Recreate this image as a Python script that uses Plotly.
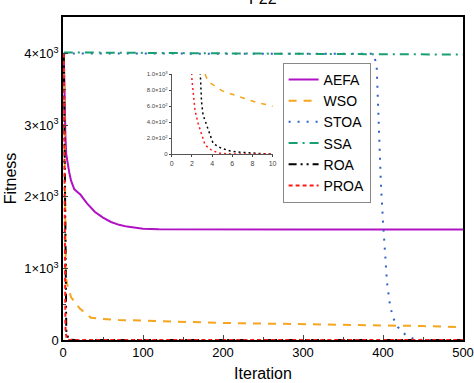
import plotly.graph_objects as go

# ---- data ----
aefa_iter = [1, 2, 3, 4, 6, 8, 10, 14, 18, 22, 26, 30, 40, 50, 60, 70, 80, 90, 100, 120, 150, 200, 300, 400, 500]
aefa_fit = [4000, 3300, 2850, 2600, 2450, 2330, 2230, 2110, 2070, 2030, 1970, 1910, 1790, 1710, 1650, 1610,
            1585, 1565, 1555, 1548, 1546, 1545, 1545, 1545, 1545]

wso_iter = [1, 2, 2.7, 3.3, 3.6, 5, 7, 8.3, 10, 16, 21, 35, 50, 70, 100, 150, 200, 250, 300, 350, 400, 450, 500]
wso_fit = [4000, 2900, 1900, 1000, 904, 790, 705, 650, 600, 510, 440, 310, 292, 280, 268, 252, 238, 230, 222,
           215, 207, 195, 178]

stoa_iter = [1, 100, 200, 300, 388, 392, 395, 397.5, 400, 402, 405, 409, 413, 419, 425, 432, 440, 450, 500]
stoa_fit = [4005, 4005, 4005, 4005, 4000, 3850, 2900, 2150, 1660, 1300, 800, 470, 300, 177, 100, 46, 10, 0, 0]

ssa_iter = [1, 100, 200, 300, 400, 500]
ssa_fit = [4020, 4010, 4005, 4000, 3995, 3990]

roa_iter = [1, 2, 2.85, 2.95, 3.1, 3.5, 3.8, 4.1, 4.9, 5.8, 6.8, 8, 9.7, 15, 500]
roa_fit = [4000, 2600, 940, 650, 490, 345, 240, 135, 75, 41, 25, 12, 2, 0, 0]

proa_iter = [1, 1.5, 2, 2.15, 2.3, 2.6, 3, 3.3, 4, 4.8, 6, 8, 500]
proa_fit = [4000, 2400, 925, 740, 550, 390, 240, 116, 45, 12, 3, 0, 0]

y_ticks = [0, 1000, 2000, 3000, 4000]
y_ticktext = ["0", "1×10<sup>3</sup>", "2×10<sup>3</sup>", "3×10<sup>3</sup>", "4×10<sup>3</sup>"]
x_ticks = [0, 100, 200, 300, 400, 500]

inset_y_ticks = [0, 200, 400, 600, 800, 1000]
inset_y_ticktext = ["0", "2.0×10<sup>2</sup>", "4.0×10<sup>2</sup>", "6.0×10<sup>2</sup>",
                    "8.0×10<sup>2</sup>", "1.0×10<sup>3</sup>"]
inset_x_ticks = [0, 2, 4, 6, 8, 10]

# ---- styles ----
series = [
    ("AEFA", aefa_iter, aefa_fit, "#B012C4", "solid", "solid"),
    ("WSO", wso_iter, wso_fit, "#F5A51E", "8px,7px", "5px,6px"),
    ("STOA", stoa_iter, stoa_fit, "#2E62C8", "2px,7px", "2px,3px"),
    ("SSA", ssa_iter, ssa_fit, "#18A070", "9px,5px,2px,5px", "2px,3px"),
    ("ROA", roa_iter, roa_fit, "#000000", "8px,4px,2px,4px,2px,4px", "2px,3px"),
    ("PROA", proa_iter, proa_fit, "#FF1A1A", "4px,3px", "2px,3px"),
]

fig = go.Figure()
for name, xs, ys, color, dash, _ in series:
    fig.add_trace(go.Scatter(x=xs, y=ys, mode="lines", name=name,
                             line=dict(color=color, width=2, dash=dash)))

for name, xs, ys, color, _, idash in series:
    fig.add_trace(go.Scatter(x=xs, y=ys, mode="lines", name=name, showlegend=False,
                             xaxis="x2", yaxis="y2",
                             line=dict(color=color, width=1.5, dash=idash)))

font_family = "Liberation Sans, Arial, sans-serif"

fig.update_layout(
    width=474, height=383,
    margin=dict(l=63, r=11, t=17, b=43, autoexpand=False),
    paper_bgcolor="white", plot_bgcolor="white",
    font=dict(family=font_family, color="#000000", size=12),
    showlegend=True,
    legend=dict(x=0.549, y=0.858, xanchor="left", yanchor="top",
                bgcolor="white", bordercolor="#888888", borderwidth=1,
                font=dict(size=14, family=font_family), itemwidth=30,
                tracegroupgap=0),
    xaxis=dict(range=[0, 500], tickvals=x_ticks, ticks="inside", ticklen=5,
               showline=True, linecolor="black", linewidth=1.5, mirror=True,
               showgrid=False, zeroline=False, automargin=False,
               tickfont=dict(size=13),
               minor=dict(ticks="inside", ticklen=3, dtick=50, showgrid=False),
               title=dict(text="Iteration", font=dict(size=16), standoff=8)),
    yaxis=dict(range=[0, 4515], tickvals=y_ticks, ticktext=y_ticktext, ticks="inside", ticklen=5,
               showline=True, linecolor="black", linewidth=1.5, mirror=True,
               showgrid=False, zeroline=False, automargin=False,
               tickfont=dict(size=13),
               minor=dict(ticks="inside", ticklen=3, tickvals=[500, 1500, 2500, 3500], showgrid=False),
               title=dict(text="Fitness", font=dict(size=16), standoff=4)),
    xaxis2=dict(domain=[0.272, 0.524], anchor="y2", range=[0, 10], tickvals=inset_x_ticks,
                ticks="outside", ticklen=2, showline=True, linecolor="#555555", linewidth=1,
                showgrid=False, zeroline=False, automargin=False,
                tickfont=dict(size=7, color="#444444")),
    yaxis2=dict(domain=[0.575, 0.8235], anchor="x2", range=[0, 1000], tickvals=inset_y_ticks,
                ticktext=inset_y_ticktext, ticks="outside", ticklen=2, showline=True,
                linecolor="#555555", linewidth=1, showgrid=False, zeroline=False, automargin=False,
                tickfont=dict(size=6, color="#444444")),
    annotations=[dict(text="F22", x=0.5, y=1.058, xref="paper", yref="paper",
                      xanchor="center", yanchor="middle", showarrow=False,
                      font=dict(size=16, family=font_family))],
)

fig.write_html("out.html", config={"displayModeBar": False},
               post_script="document.body.style.margin='0';")
